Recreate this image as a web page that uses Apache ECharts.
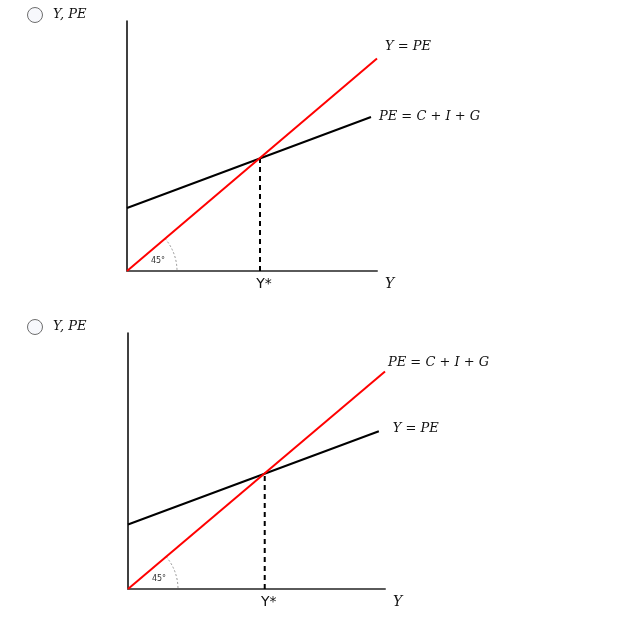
<!DOCTYPE html>
<html>
<head>
<meta charset="utf-8">
<script src="https://cdn.jsdelivr.net/npm/echarts@6/dist/echarts.min.js"></script>
<style>
    html, body {margin: 0; padding: 0; background: #fff;}
    #myChart {width: 622px; height: 642px;}
</style>
</head>
<body>
<div id="myChart"></div>
<script>
    // 数据（两个图共用同一组几何）
    var redLineX = [0, 100];
    var redLineY = [0, 85];
    var blackLineX = [0, 97.6];
    var blackLineY = [25.2, 61.6];
    var equilibriumX = 53.2;
    var equilibriumY = 45.2;
    var topLineLabels = ['Y = PE', 'PE = C + I + G'];
    var bottomLineLabels = ['PE = C + I + G', 'Y = PE'];
    var yAxisTitle = 'Y, PE';
    var xAxisTitle = 'Y';
    var equilibriumLabel = 'Y*';
    var angleLabel = '45°';

    var myChart;
    var mathFont = '"DejaVu Serif", serif';

    window.onload = function() {
        init();
    };

    function init() {
        getMyChart();
        var option = initChartOptions();
        myChart.setOption(option);
    }

    function getMyChart() {
        if (typeof myChart !== 'undefined') {return myChart;}
        myChart = echarts.init(document.getElementById('myChart'), null, {renderer: 'canvas'});
        return myChart;
    }

    function lineData(xs, ys) {
        var arr = [];
        for (var i = 0; i < xs.length; i++) {
            arr.push([xs[i], ys[i]]);
        }
        return arr;
    }

    // 线末端的文字标签
    function endLabel(text, offset) {
        return {
            show: true,
            distance: 0,
            offset: offset,
            formatter: text,
            color: '#111',
            fontFamily: mathFont,
            fontStyle: 'italic',
            fontSize: 13,
            align: 'left',
            verticalAlign: 'middle'
        };
    }

    // 45° 角的虚线弧
    function angleArc(params, api) {
        var o = api.coord([redLineX[0], redLineY[0]]);
        var e = api.coord([redLineX[1], redLineY[1]]);
        var ang = Math.atan2(e[1] - o[1], e[0] - o[0]);
        return {
            type: 'group',
            children: [{
                type: 'arc',
                shape: {cx: o[0], cy: o[1], r: 50, startAngle: ang, endAngle: 0, clockwise: true},
                style: {stroke: '#9a9a9a', fill: null, lineWidth: 1, lineDash: [2, 2]}
            }, {
                type: 'text',
                x: o[0] + 31,
                y: o[1] - 10,
                style: {text: angleLabel, fill: '#333', font: '8px "DejaVu Sans", sans-serif', align: 'center', verticalAlign: 'middle'}
            }]
        };
    }

    function buildAxes(idx) {
        var xAxis = {
            type: 'value',
            gridIndex: idx,
            min: 0,
            max: 100,
            name: xAxisTitle,
            nameLocation: 'end',
            nameGap: 8,
            nameTextStyle: {
                color: '#111', fontFamily: mathFont, fontStyle: 'italic', fontSize: 14,
                align: 'left', verticalAlign: 'top', padding: [6, 0, 0, 0]
            },
            axisLine: {show: true, onZero: false, lineStyle: {color: '#5a5a5a', width: 2}},
            axisTick: {show: false},
            splitLine: {show: false},
            axisLabel: {
                show: true,
                customValues: [equilibriumX],
                formatter: function() { return equilibriumLabel; },
                margin: 6,
                color: '#111',
                fontFamily: '"DejaVu Sans", sans-serif',
                fontSize: 14,
                padding: [0, 0, 0, 8]
            }
        };
        var yAxis = {
            type: 'value',
            gridIndex: idx,
            min: 0,
            max: 100,
            axisLine: {show: true, onZero: false, lineStyle: {color: '#000', width: 1.5}},
            axisTick: {show: false},
            axisLabel: {show: false},
            splitLine: {show: false}
        };
        return {x: xAxis, y: yAxis};
    }

    function buildSeries(idx, labels, redOffset, blackOffset) {
        return [{
            type: 'line',
            xAxisIndex: idx,
            yAxisIndex: idx,
            data: lineData(redLineX, redLineY),
            symbol: 'none',
            silent: true,
            lineStyle: {color: '#ff0000', width: 2},
            endLabel: endLabel(labels[0], redOffset),
            z: 3
        }, {
            type: 'line',
            xAxisIndex: idx,
            yAxisIndex: idx,
            data: lineData(blackLineX, blackLineY),
            symbol: 'none',
            silent: true,
            lineStyle: {color: '#000', width: 2},
            endLabel: endLabel(labels[1], blackOffset),
            z: 2
        }, {
            type: 'line',
            xAxisIndex: idx,
            yAxisIndex: idx,
            data: [[equilibriumX, 0], [equilibriumX, equilibriumY]],
            symbol: 'none',
            silent: true,
            lineStyle: {color: '#000', width: 2, type: [5, 4]},
            z: 1
        }, {
            type: 'custom',
            xAxisIndex: idx,
            yAxisIndex: idx,
            data: [[0, 0]],
            silent: true,
            renderItem: angleArc
        }];
    }

    function radioTitle(cy) {
        return [{
            type: 'circle',
            shape: {cx: 35, cy: cy, r: 7.5},
            style: {fill: '#f7f8fc', stroke: '#6e6e6e', lineWidth: 1}
        }, {
            type: 'text',
            x: 53,
            y: cy,
            style: {
                text: yAxisTitle, fill: '#111',
                font: 'italic 13px "DejaVu Serif", serif',
                verticalAlign: 'middle'
            }
        }];
    }

    function initChartOptions() {
        var a0 = buildAxes(0);
        var a1 = buildAxes(1);
        var series = buildSeries(0, topLineLabels, [8, -12], [8, 0])
            .concat(buildSeries(1, bottomLineLabels, [3, -9], [14, -3]));
        return {
            animation: false,
            backgroundColor: '#fff',
            grid: [
                {left: 127, top: 21, width: 250, height: 250},
                {left: 128, top: 333, width: 257, height: 256}
            ],
            xAxis: [a0.x, a1.x],
            yAxis: [a0.y, a1.y],
            series: series,
            graphic: radioTitle(15).concat(radioTitle(327))
        };
    }
</script>
</body>
</html>
